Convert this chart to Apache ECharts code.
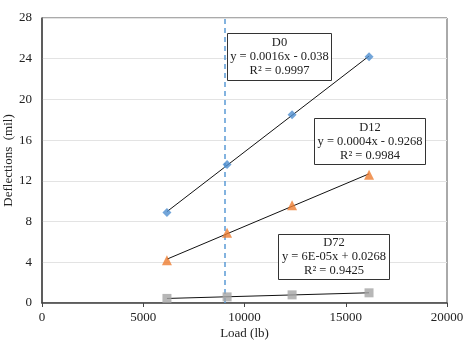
<!DOCTYPE html>
<html>
<head>
<meta charset="utf-8">
<script src="https://cdn.jsdelivr.net/npm/echarts@6/dist/echarts.min.js"></script>
<style>
  html, body { margin: 0; padding: 0; background: #fff; }
  #chart { width: 474px; height: 354px; }
</style>
</head>
<body>
<div id="chart"></div>
<script>
// 荷载 (lb)
const loads = [6170, 9140, 12350, 16150]
// 挠度 (mil)
const d0 = [8.9, 13.6, 18.5, 24.2]
const d12 = [4.2, 6.9, 9.6, 12.6]
const d72 = [0.45, 0.6, 0.8, 1.0]
const markerLoad = 9000
const eqLabels = {
  d0: ['D0', 'y = 0.0016x - 0.038', 'R² = 0.9997'],
  d12: ['D12', 'y = 0.0004x - 0.9268', 'R² = 0.9984'],
  d72: ['D72', 'y = 6E-05x + 0.0268', 'R² = 0.9425']
}

// 最小二乘拟合, 画趋势线
function fitLine (xs, ys) {
  const n = xs.length
  const mx = xs.reduce((a, b) => a + b, 0) / n
  const my = ys.reduce((a, b) => a + b, 0) / n
  let sxy = 0
  let sxx = 0
  xs.forEach((x, i) => {
    sxy += (x - mx) * (ys[i] - my)
    sxx += (x - mx) * (x - mx)
  })
  const k = sxy / sxx
  const b = my - k * mx
  const x0 = Math.min(...xs)
  const x1 = Math.max(...xs)
  return [[x0, k * x0 + b], [x1, k * x1 + b]]
}

function pairs (ys) {
  return loads.map((x, i) => [x, ys[i]])
}

const font = 'Liberation Serif, Times New Roman, serif'

// 公式文本框
function eqBox (lines, left, top, w, h) {
  return {
    type: 'group',
    left: left,
    top: top,
    z: 100,
    zlevel: 1,
    children: [
      {
        type: 'rect',
        z: 100,
        zlevel: 1,
        shape: { x: 0, y: 0, width: w, height: h },
        style: { fill: '#fff', stroke: '#333', lineWidth: 1 }
      },
      {
        type: 'text',
        z: 101,
        zlevel: 1,
        x: w / 2,
        y: h / 2,
        style: {
          text: lines.join('\n'),
          font: '12.5px ' + font,
          fill: '#222',
          align: 'center',
          verticalAlign: 'middle',
          lineHeight: 14
        }
      }
    ]
  }
}

const myEchart = echarts.init(document.getElementById('chart'))
const option = {
  animation: false,
  textStyle: { fontFamily: font },
  grid: {
    left: 42,
    right: 27,
    top: 18,
    bottom: 51,
    containLabel: false,
    outerBoundsMode: 'none',
    show: true,
    borderColor: '#555',
    borderWidth: 1
  },
  xAxis: {
    type: 'value',
    min: 0,
    max: 20000,
    interval: 5000,
    name: 'Load (lb)',
    nameLocation: 'middle',
    nameGap: 24,
    nameMoveOverlap: false,
    nameTextStyle: { fontSize: 13, color: '#222', fontFamily: font },
    axisLine: { lineStyle: { color: '#444', width: 1.5 } },
    axisTick: { show: true, length: 4, lineStyle: { color: '#444' } },
    axisLabel: { fontSize: 13, color: '#222', fontFamily: font, margin: 8, formatter: v => String(v) },
    splitLine: { show: false }
  },
  yAxis: {
    type: 'value',
    min: 0,
    max: 28,
    interval: 4,
    name: 'Deflections  (mil)',
    nameLocation: 'middle',
    nameGap: 27,
    nameMoveOverlap: false,
    nameTextStyle: { fontSize: 13, color: '#222', fontFamily: font },
    axisLine: { show: true, lineStyle: { color: '#444', width: 1.5 } },
    axisTick: { show: false },
    axisLabel: { fontSize: 13, color: '#222', fontFamily: font, margin: 10 },
    splitLine: { show: true, lineStyle: { color: '#e3e3e3', width: 1 } }
  },
  series: [
    {
      name: 'D0',
      type: 'scatter',
      symbol: 'diamond',
      symbolSize: 9,
      itemStyle: { color: '#4f8fd0' },
      data: pairs(d0),
      z: 5
    },
    {
      name: 'D12',
      type: 'scatter',
      symbol: 'triangle',
      symbolSize: 10,
      itemStyle: { color: '#ed7d31' },
      data: pairs(d12),
      z: 5
    },
    {
      name: 'D72',
      type: 'scatter',
      symbol: 'rect',
      symbolSize: 9,
      itemStyle: { color: '#a5a5a5' },
      data: pairs(d72),
      z: 5
    },
    {
      type: 'line',
      showSymbol: false,
      lineStyle: { color: '#111', width: 1 },
      data: fitLine(loads, d0),
      z: 4
    },
    {
      type: 'line',
      showSymbol: false,
      lineStyle: { color: '#111', width: 1 },
      data: fitLine(loads, d12),
      z: 4
    },
    {
      type: 'line',
      showSymbol: false,
      lineStyle: { color: '#111', width: 1 },
      data: fitLine(loads, d72),
      z: 4,
      markLine: {
        silent: true,
        symbol: 'none',
        label: { show: false },
        lineStyle: { color: '#5b9bd5', type: [5, 4], width: 1.5 },
        data: [{ xAxis: markerLoad }]
      }
    }
  ],
  graphic: [
    eqBox(eqLabels.d0, 227, 33, 104, 47),
    eqBox(eqLabels.d12, 314, 118, 111, 46),
    eqBox(eqLabels.d72, 278, 234, 111, 45)
  ]
}
myEchart.setOption(option)
</script>
</body>
</html>
